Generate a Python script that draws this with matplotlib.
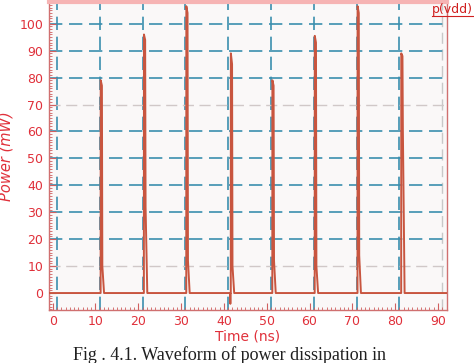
import numpy as np
import matplotlib
matplotlib.use("Agg")
import matplotlib.pyplot as plt
from matplotlib.ticker import MultipleLocator

# pulse data (ns, mW)
pulse_start = [11.2, 21.3, 31.2, 41.6, 51.3, 61.2, 71.2, 81.4]
pulse_peak = [79, 96, 106.5, 89, 79, 95.5, 106.5, 89]
pulse_second = [77, 94, 104, 85, 77, 93, 104, 88]
pulse_tail = [10, 32, 12, 10, 12, 10, 14, 60]
dip_time = 41.5
dip_value = -4

grid_x_blue = [1, 11, 21, 31, 41, 51, 61, 71, 81]
grid_x_grey = [91]
grid_y_blue = [20, 30, 40, 50, 60, 80, 90, 100]
grid_y_grey = [10, 70]

red = "#e0303a"
blue = "#3a8fae"
trace = "#c8553f"

# build the trace from the pulse list
t = [-0.9]
p = [0]
for ts, pk, sec, tail in zip(pulse_start, pulse_peak, pulse_second, pulse_tail):
    if ts > dip_time - 1 and ts < dip_time + 1:
        t += [dip_time - 0.05, dip_time, dip_time + 0.05]
        p += [0, dip_value, 0]
    t += [ts, ts + 0.02, ts + 0.3, ts + 0.4, ts + 0.8]
    p += [0, pk, sec, tail, 0]
t.append(92.0)
p.append(0)

fig = plt.figure(figsize=(4.74, 3.63), dpi=100)
fig.patch.set_facecolor("white")
ax = fig.add_axes([0.103, 0.146, 0.84, 0.848])
ax.set_facecolor("#faf8f8")

for x in grid_x_blue:
    ax.axvline(x, color=blue, lw=1.2, dashes=(8, 4), zorder=1)
for x in grid_x_grey:
    ax.axvline(x, color="#c8c8c8", lw=1.0, dashes=(8, 4), zorder=1)
for y in grid_y_blue:
    ax.axhline(y, color=blue, lw=1.2, dashes=(8, 4), zorder=1)
for y in grid_y_grey:
    ax.axhline(y, color="#d0c8c8", lw=1.0, dashes=(8, 4), zorder=1)

ax.plot(t, p, color=trace, lw=1.4, zorder=3)

ax.set_xlim(-0.9, 92.1)
ax.set_ylim(-6.3, 108)
ax.xaxis.set_major_locator(MultipleLocator(10))
ax.yaxis.set_major_locator(MultipleLocator(10))
ax.xaxis.set_minor_locator(MultipleLocator(1))
ax.yaxis.set_minor_locator(MultipleLocator(1))
ax.tick_params(which="both", colors="#d06060", labelcolor=red, labelsize=9,
               direction="in", top=False, right=False)
ax.tick_params(which="major", length=5, width=0.8)
ax.tick_params(which="minor", length=2.5, width=0.6)
ax.tick_params(axis="y", pad=4)

for side in ["left", "bottom", "right"]:
    ax.spines[side].set_color("#d07070")
    ax.spines[side].set_linewidth(1.0)
ax.spines["top"].set_color("#f6b4b4")
ax.spines["top"].set_linewidth(3)

ax.set_xlabel("Time (ns)", color=red, fontsize=10, labelpad=1)
ax.set_ylabel("Power (mW)", color=red, fontsize=10.5, style="italic", labelpad=4)

fig.text(0.998, 0.975, "p(vdd)", color="#d02020", fontsize=9, ha="right",
         va="center")
fig.add_artist(plt.Line2D([0.912, 0.998], [0.955, 0.955], color="#d02020", lw=0.8))

fig.text(0.155, -0.004, "Fig . 4.1. Waveform of power dissipation in", color="#202020",
         fontsize=13, family="Liberation Serif", va="bottom")

fig.savefig("out.png", dpi=100)
